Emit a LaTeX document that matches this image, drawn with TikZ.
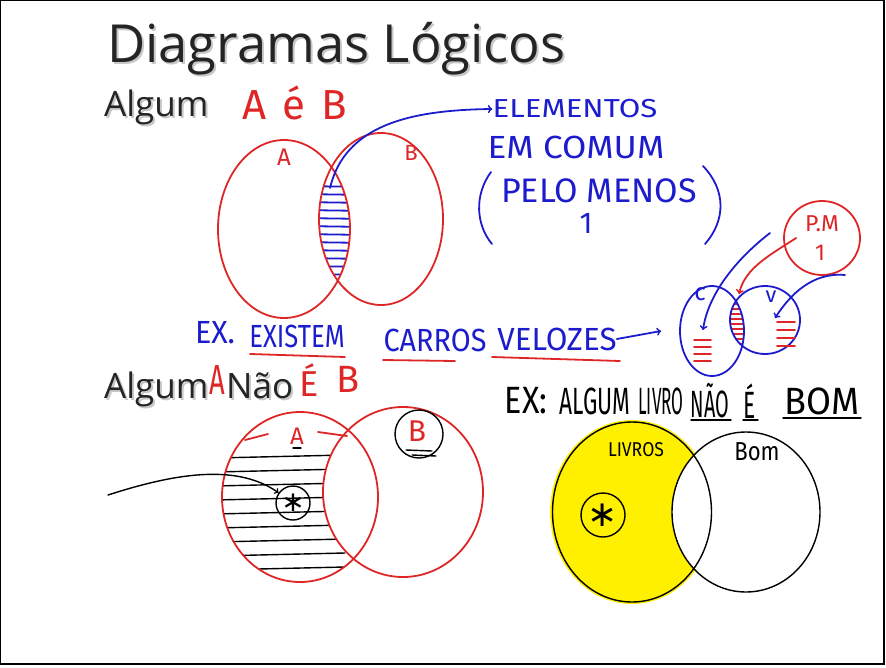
\documentclass[tikz,border=0pt]{standalone}
\usepackage{fontspec}
\setmainfont{Open Sans}
\newfontfamily\handfont{Fira Sans}
\newfontfamily\symbolfont{DejaVu Sans}
\usetikzlibrary{shapes.geometric}

\definecolor{penred}{RGB}{222,38,38}
\definecolor{penblue}{RGB}{28,28,205}
\definecolor{slide}{RGB}{36,36,36}
\definecolor{marker}{RGB}{255,240,0}

\tikzset{
  pen/.style={line width=1.8pt, line cap=round, line join=round},
  venn/.style={draw, ellipse, pen, inner sep=0pt},
  hand/.style={font=\handfont\fontsize{#1}{#1}\selectfont, inner sep=0pt},
  hand/.default=24,
  narrow/.style={xscale=#1, transform shape},
  slidetext/.style={font=\fontsize{#1}{#1}\selectfont, text=slide, inner sep=0pt, anchor=base west},
  shadow/.style={text=black!22},
  starmark/.style={draw, circle, pen, line width=1.4pt, inner sep=0pt, minimum size=#1},
}

\begin{document}
\begin{tikzpicture}[x=1pt,y=-1pt]
    \useasboundingbox (0,0) rectangle (886,667);
    \draw[line width=1.2pt] (0.6,0.6) rectangle (884,664);

    % Title
    \node[slidetext=52.5, shadow] (titleshadow) at (109,64) {Diagramas Lógicos};
    \node[slidetext=52.5] (title) at (107,62) {Diagramas Lógicos};

    % Algum A e B
    \node[slidetext=35, shadow] (algumshadow) at (106,118) {Algum};
    \node[slidetext=35] (algum) at (104,116) {Algum};
    \node[hand=42, penred] (rule) at (295,103) {A\hspace{16pt}é\hspace{16pt}B};

    % Sets A and B
    \begin{scope}
        \clip (284,229) ellipse [x radius=66, y radius=89];
        \clip (381,219) ellipse [x radius=62, y radius=86];
        \foreach \y in {186,194,...,290}
            \draw[pen, penblue] (300,\y) -- (370,\y+1);
    \end{scope}
    \node[venn, penred, minimum width=132, minimum height=178] (setA) at (284,229) {};
    \node[venn, penred, minimum width=124, minimum height=172] (setB) at (381,219) {};
    \node[hand=24, penred] (labA) at (284,157) {A};
    \node[hand=22, penred] (labB) at (411,153) {B};

    % Elementos em comum
    \node[hand=26, penblue, narrow=1.2] (elem) at (575,109) {ELEMENTOS};
    \node[hand=32, penblue, narrow=1.1] (comum) at (576,147) {EM COMUM};
    \node[hand=34, penblue] (pelo) at (599,191) {PELO MENOS};
    \node[hand=30, penblue] (um) at (586,223) {1};
    \draw[pen, penblue] (491,172) .. controls (474,195) and (476,225) .. (492,244);
    \draw[pen, penblue] (703,166) .. controls (726,190) and (726,220) .. (705,244);
    \coordinate (meet) at (330,188);
    \draw[pen, penblue, ->] (meet) .. controls (345,125) and (410,110) .. (elem.west);

    % Example: cars
    \node[hand=32, penblue, narrow=0.95] (exone) at (215,333) {EX.};
    \node[hand=32, penblue, narrow=0.8] (existem) at (297,336) {EXISTEM};
    \node[hand=32, penblue, narrow=0.9] (carros) at (435,340) {CARROS};
    \node[hand=32, penblue, narrow=0.98] (velozes) at (557,339) {VELOZES};
    \draw[pen, penred] (250,354) -- (345,357);
    \draw[pen, penred] (383,360) -- (455,361);
    \draw[pen, penred] (492,357) -- (620,361);

    % Small diagram C and V
    \begin{scope}
        \clip (712,331) ellipse [x radius=32, y radius=45];
        \clip (765,320) ellipse [x radius=35, y radius=34];
        \foreach \y in {304,309,...,354}
            \draw[pen, penred] (722,\y) -- (752,\y);
    \end{scope}
    \node[venn, penblue, minimum width=64, minimum height=90] (cset) at (712,331) {};
    \node[venn, penblue, minimum width=70, minimum height=68] (vset) at (765,320) {};
    \node[hand=24, penblue] (labC) at (700,294) {c};
    \node[hand=22, penblue] (labV) at (771,297) {v};
    \foreach \y in {340,347,354,361}
        \draw[pen, penred] (694,\y) -- (711,\y);
    \foreach \y in {322,330,338,346}
        \draw[pen, penred] (777,\y) -- (795,\y);
    \node[venn, penred, minimum width=76, minimum height=74] (pm) at (822,238) {};
    \node[hand=23, penred] (pmtext) at (822,224) {P.M};
    \node[hand=23, penred] (pmone) at (820,253) {1};
    \coordinate (cv) at (739,294);
    \coordinate (tailC) at (770,233);
    \coordinate (headC) at (703,330);
    \coordinate (tailV) at (845,275);
    \coordinate (headV) at (775,318);
    \draw[pen, penblue, ->] (velozes.east) -- ([xshift=-18]cset.west);
    \draw[pen, penred, ->] ([xshift=13]pm.west) .. controls (770,255) and (745,268) .. (cv);
    \draw[pen, penblue, ->] (tailC) .. controls (735,260) and (708,295) .. (headC);
    \draw[pen, penblue, ->] (tailV) .. controls (812,272) and (790,295) .. (headV);

    % Algum A nao e B
    \node[slidetext=35, shadow] (algumshadowtwo) at (106,400) {Algum};
    \node[slidetext=35] (algumtwo) at (104,398) {Algum};
    \node[hand=42, penred, narrow=0.65] (redA) at (217,380) {A};
    \node[slidetext=35, shadow] (naoshadow) at (228,400) {Não};
    \node[slidetext=35] (nao) at (226,398) {Não};
    \node[hand=36, penred] (redE) at (309,380) {É};
    \node[hand=38, penred] (redB) at (348,379) {B};

    % Sets A and B, A part hatched
    \begin{scope}
        \clip (300,497) ellipse [x radius=78, y radius=85];
        \foreach \y in {458,472,...,580}
            \draw[pen, line width=1.4pt] (215,\y) -- (345,\y-3);
        \fill[white] (403,492) ellipse [x radius=80, y radius=85];
    \end{scope}
    \node[venn, penred, minimum width=156, minimum height=170] (setAtwo) at (300,497) {};
    \node[venn, penred, minimum width=160, minimum height=170] (setBtwo) at (403,492) {};
    \node[hand=24, penred] (labAtwo) at (297,436) {A};
    \draw[pen, penred] (245,440) -- (268,434);
    \draw[pen, penred] (318,432) -- (347,436);
    \draw[pen, line width=1.4pt] (293,448) -- (301,448);
    \node[starmark=48] (bmark) at (419,434) {};
    \node[hand=30, penred] (labBtwo) at (417,431) {B};
    \draw[pen, line width=1.4pt] (406,450) -- (432,451);
    \draw[pen, line width=1.4pt] (412,455) -- (436,456);
    \node[starmark=34, font=\symbolfont\fontsize{28}{28}\selectfont] (starone) at (293,503) {∗};
    \coordinate (tailstar) at (108,495);
    \draw[pen, line width=1.4pt, ->] (tailstar) .. controls (170,475) and (235,462) .. (starone);

    % Example: books
    \node[hand=38, narrow=0.85] (extwo) at (526,401) {EX:};
    \node[hand=38, narrow=0.6] (algumword) at (595,401) {ALGUM};
    \node[hand=38, narrow=0.45] (livro) at (661,401) {LIVRO};
    \node[hand=38, narrow=0.52] (naotwo) at (710,401) {NÃO};
    \node[hand=38, narrow=0.6] (etwo) at (750,401) {É};
    \node[hand=38, narrow=0.95] (bom) at (822,401) {BOM};
    \draw[pen, line width=1.4pt] (691,420) -- (731,420);
    \draw[pen, line width=1.4pt] (743,420) -- (758,420);
    \draw[pen, line width=1.4pt] (783,418) -- (861,418);

    % Livros and Bom
    \fill[marker] (632,512) ellipse [x radius=82, y radius=92];
    \fill[white] (746,512) ellipse [x radius=74, y radius=80];
    \node[venn, line width=1.4pt, minimum width=159, minimum height=180] (livros) at (632,512) {};
    \node[venn, line width=1.4pt, minimum width=148, minimum height=160] (bomset) at (746,512) {};
    \node[hand=20, narrow=0.88] (lablivros) at (636,450) {LIVROS};
    \node[hand=26, narrow=0.85] (labbom) at (757,452) {Bom};
    \node[starmark=44, font=\symbolfont\fontsize{36}{36}\selectfont] (startwo) at (603,515) {∗};
\end{tikzpicture}
\end{document}
